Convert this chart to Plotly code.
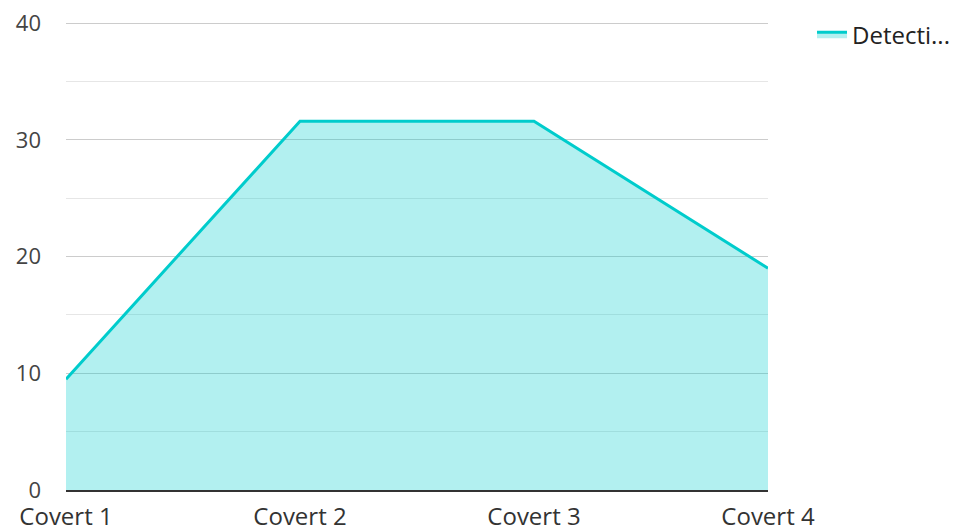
import plotly.graph_objects as go

categories = ["Covert 1", "Covert 2", "Covert 3", "Covert 4"]
values = [9.5, 31.6, 31.6, 19.0]
series_name = "Detecti..."

fig = go.Figure()
fig.add_trace(go.Scatter(
    x=categories, y=values, name=series_name, mode="lines",
    line=dict(color="#00cccc", width=3),
    fill="tozeroy", fillcolor="rgba(0,204,204,0.3)",
))

fig.update_layout(
    width=957, height=531,
    margin=dict(l=66, r=189, t=22, b=41),
    paper_bgcolor="white", plot_bgcolor="white",
    font=dict(family="Open Sans", size=22, color="#333333"),
    showlegend=True,
    legend=dict(xref="container", yref="container", x=0.8485, y=0.977,
                xanchor="left", yanchor="top",
                font=dict(size=24, color="#222222"), bgcolor="rgba(0,0,0,0)"),
    xaxis=dict(type="category", range=[0, 3], showgrid=False, zeroline=False,
               showline=True, linecolor="#333333", linewidth=2, automargin=False,
               ticks="", ticklabelstandoff=4, tickfont=dict(size=24, color="#333333")),
    yaxis=dict(range=[0, 40.1], tickvals=[0, 10, 20, 30, 40], showgrid=True,
               gridcolor="#cccccc", gridwidth=1, zeroline=False, showline=False,
               automargin=False,
               ticklabelstandoff=24, tickfont=dict(size=22, color="#444444"),
               minor=dict(dtick=5, showgrid=True, gridcolor="#e6e6e6", gridwidth=1)),
)

fig.write_html("out.html", config={"displayModeBar": False},
               post_script="document.body.style.margin='0';")
